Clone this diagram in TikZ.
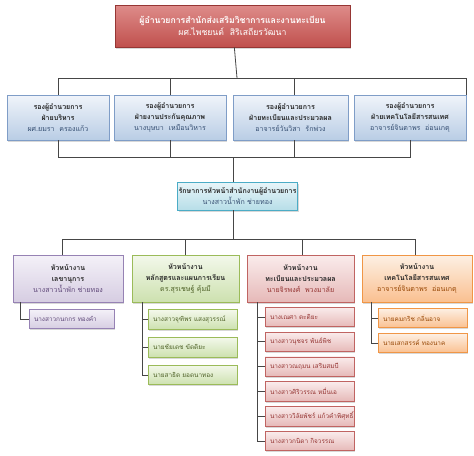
\documentclass[tikz,border=0pt]{standalone}
\usepackage{fontspec}
\setmainfont[Script=Thai]{Loma}
\usetikzlibrary{shadows}

\definecolor{redtop}{RGB}{222,140,138}
\definecolor{redbot}{RGB}{192,80,77}
\definecolor{redline}{RGB}{150,54,52}
\definecolor{bluetop}{RGB}{240,244,250}
\definecolor{bluebot}{RGB}{185,205,229}
\definecolor{blueline}{RGB}{127,157,199}
\definecolor{bluetext}{RGB}{55,80,115}
\definecolor{cyantop}{RGB}{232,245,249}
\definecolor{cyanbot}{RGB}{183,222,232}
\definecolor{cyanline}{RGB}{75,172,198}
\definecolor{purptop}{RGB}{244,241,248}
\definecolor{purpbot}{RGB}{214,205,226}
\definecolor{purpline}{RGB}{150,130,180}
\definecolor{purptext}{RGB}{96,73,122}
\definecolor{greentop}{RGB}{243,248,235}
\definecolor{greenbot}{RGB}{205,225,175}
\definecolor{greenline}{RGB}{155,187,89}
\definecolor{greentext}{RGB}{79,98,40}
\definecolor{pinktop}{RGB}{250,236,236}
\definecolor{pinkbot}{RGB}{230,185,184}
\definecolor{pinkline}{RGB}{192,100,98}
\definecolor{pinktext}{RGB}{150,54,52}
\definecolor{orgtop}{RGB}{253,240,228}
\definecolor{orgbot}{RGB}{250,192,144}
\definecolor{orgline}{RGB}{240,150,70}
\definecolor{orgtext}{RGB}{152,72,6}
\definecolor{titletext}{RGB}{35,35,35}
\definecolor{wire}{RGB}{70,70,70}

\begin{document}
\begin{tikzpicture}[x=0.75pt, y=-0.75pt,
	every node/.style={font=\fontsize{5.3}{8}\selectfont, align=center, inner sep=1pt},
	wh/.style 2 args={minimum width=#1*0.75pt, minimum height=#2*0.75pt},
	box/.style={draw, line width=0.5pt, drop shadow={shadow xshift=1pt, shadow yshift=-1.2pt, opacity=0.3}},
	staff/.style={wh={#1}{19.5}, text width=#1*0.75pt-7.5pt, align=left, inner xsep=3.75pt, font=\fontsize{4.8}{6}\selectfont},
	headbox/.style={box, draw=redline, top color=redtop, bottom color=redbot, text=white},
	depbox/.style={box, draw=blueline, top color=bluetop, bottom color=bluebot, text=titletext},
	midbox/.style={box, draw=cyanline, top color=cyantop, bottom color=cyanbot, text=titletext},
	purpbox/.style={box, draw=purpline, top color=purptop, bottom color=purpbot, text=titletext},
	greenbox/.style={box, draw=greenline, top color=greentop, bottom color=greenbot, text=titletext},
	pinkbox/.style={box, draw=pinkline, top color=pinktop, bottom color=pinkbot, text=titletext},
	orgbox/.style={box, draw=orgline, top color=orgtop, bottom color=orgbot, text=titletext},
	wiring/.style={draw=wire, line width=0.6pt}]
	\useasboundingbox[fill=white] (0,0) rectangle (474,455);

	% director
	\node[headbox, wh={235}{42}, font=\fontsize{6.5}{9.5}\selectfont] (top) at (232.5,26)
		{\textbf{ผู้อำนวยการสำนักส่งเสริมวิชาการและงานทะเบียน}\\ผศ.ไพชยนต์\ \ สิริเสถียรวัฒนา};

	% deputies
	\node[depbox, wh={102}{45}] (d1) at (58,117.5)
		{\textbf{รองผู้อำนวยการ}\\\textbf{ฝ่ายบริหาร}\\\textcolor{bluetext}{ผศ.ยมรา\ \ ครองแก้ว}};
	\node[depbox, wh={112}{45}] (d2) at (170,117.5)
		{\textbf{รองผู้อำนวยการ}\\\textbf{ฝ่ายงานประกันคุณภาพ}\\\textcolor{bluetext}{นางบุษบา\ \ เหมือนวิหาร}};
	\node[depbox, wh={115}{45}] (d3) at (290.5,117.5)
		{\textbf{รองผู้อำนวยการ}\\\textbf{ฝ่ายทะเบียนและประมวลผล}\\\textcolor{bluetext}{อาจารย์วันวิสา\ \ รักพ่วง}};
	\node[depbox, wh={112}{45}] (d4) at (410,117.5)
		{\textbf{รองผู้อำนวยการ}\\\textbf{ฝ่ายเทคโนโลยีสารสนเทศ}\\\textcolor{bluetext}{อาจารย์จินตาพร\ \ อ่อนเกตุ}};

	% office head
	\node[midbox, wh={111}{28}] (mid) at (237.5,196)
		{\textbf{รักษาการหัวหน้าสำนักงานผู้อำนวยการ}\\\textcolor{bluetext}{นางสาวน้ำพัก ช่ายทอง}};

	% section heads
	\node[purpbox, wh={110}{47}] (h1) at (68,278.5)
		{\textbf{หัวหน้างาน}\\\textbf{เลขานุการ}\\\textcolor{purptext}{นางสาวน้ำพัก ช่ายทอง}};
	\node[greenbox, wh={107}{47}] (h2) at (185.5,278.5)
		{\textbf{หัวหน้างาน}\\\textbf{หลักสูตรและแผนการเรียน}\\\textcolor{greentext}{ดร.สุรเชษฐ์ คุ้มมี}};
	\node[pinkbox, wh={107}{47}] (h3) at (300.5,278.5)
		{\textbf{หัวหน้างาน}\\\textbf{ทะเบียนและประมวลผล}\\\textcolor{pinktext}{นายจิรพงศ์\ \ พวงมาลัย}};
	\node[orgbox, wh={110}{47}] (h4) at (417,278.5)
		{\textbf{หัวหน้างาน}\\\textbf{เทคโนโลยีสารสนเทศ}\\\textcolor{orgtext}{อาจารย์จินตาพร\ \ อ่อนเกตุ}};

	% buses
	\coordinate (bus1) at (237,78);
	\coordinate (bus2) at (233,157);
	\coordinate (bus3) at (233,239);
	\draw[wiring] (top) -- (bus1);
	\draw[wiring] (bus1) -| (d1.north);
	\draw[wiring] (bus1) -| (d2.north);
	\draw[wiring] (bus1) -| ([xshift=3pt]d3.north);
	\draw[wiring] (bus1) -| (d4.north east);
	\draw[wiring] (d1.south) |- (bus2);
	\draw[wiring] (d2.south) |- (bus2);
	\draw[wiring] ([xshift=3pt]d3.south) |- (bus2);
	\draw[wiring] (d4.south) |- (bus2);
	\draw[wiring] (bus2) -- (mid.north -| bus2);
	\draw[wiring] (mid.south -| bus3) -- (bus3);
	\draw[wiring] (bus3) -| ([xshift=-4.5pt]h1.north);
	\draw[wiring] (bus3) -| (h2.north);
	\draw[wiring] (bus3) -| ([xshift=1.5pt]h3.north);
	\draw[wiring] (bus3) -| ([xshift=-1.5pt]h4.north);

	% staff
	\coordinate (h1x) at ([xshift=6pt]h1.south west);
	\coordinate (h2x) at ([xshift=8.25pt]h2.south west);
	\coordinate (h3x) at ([xshift=8.25pt]h3.south west);
	\coordinate (h4x) at ([xshift=7pt]h4.south west);
	\node[purpbox, staff=85, text=purptext] (s11) at (71.5,319) {\mbox{นางสาวกนกกร ทองคำ}};
	\draw[wiring] (h1x) |- (s11.west);
	\foreach \t [count=\i] in {นางสาวจุฑิพร แสงสุวรรณ์, นายชัยเดช ขัดติยะ, นายสาธิต ยอดนาทอง} {
		\node[greenbox, staff=89, text=greentext] (s2\i) at (192.5,{319.5+27.7*(\i-1)}) {\mbox{\t}};
		\draw[wiring] (h2x) |- (s2\i.west);
	}
	\foreach \t [count=\i] in {นางเณศา ตะติยะ, นางสาวนุชจร พันธ์พิช, นางสาวณฤมน เสริมสมบี, นางสาวศิริวรรณ หมื่นเอ, นางสาววิลัยพัชร์ แก้วคำพิศุทธิ์, นางสาวกนิดา กิจวรรณ} {
		\node[pinkbox, staff=89, text=pinktext] (s3\i) at (309.5,{317+24.8*(\i-1)}) {\mbox{\t}};
		\draw[wiring] (h3x) |- (s3\i.west);
	}
	\foreach \t [count=\i] in {นายคมกริช กลิ่นอาจ, นายเสกสรรค์ ทองนาค} {
		\node[orgbox, staff=89, text=orgtext] (s4\i) at (422.5,{318+25*(\i-1)}) {\mbox{\t}};
		\draw[wiring] (h4x) |- (s4\i.west);
	}
\end{tikzpicture}
\end{document}
